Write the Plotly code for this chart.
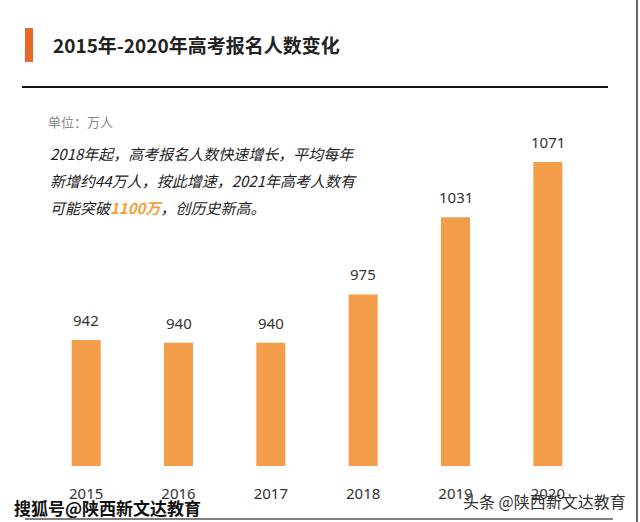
import plotly.graph_objects as go

years = ["2015", "2016", "2017", "2018", "2019", "2020"]
applicants = [942, 940, 940, 975, 1031, 1071]

title_text = "2015年-2020年高考报名人数变化"
unit_text = "单位：万人"
note_lines = [
    "2018年起，高考报名人数快速增长，平均每年",
    "新增约44万人，按此增速，2021年高考人数有",
    "可能突破<b><span style='color:#F2A03D'>1100万</span></b>，创历史新高。",
]
wm_left = "搜狐号@陕西新文达教育"
wm_right = "头条 @陕西新文达教育"

W, H = 640, 522
L, R, T, B = 40, 46, 100, 56
pw, ph = W - L - R, H - T - B
y0 = 850.7
ppu = 1.38
y1 = y0 + ph / ppu

def px(x):
    return (x - L) / pw

def py(y):
    return (H - B - y) / ph

CJK = "Noto Sans CJK SC, Noto Sans, sans-serif"
NUM = "Noto Sans, Open Sans, sans-serif"

fig = go.Figure()
fig.add_trace(go.Bar(
    x=years, y=applicants,
    marker=dict(color="#F39C4A", line=dict(width=0)),
    hoverinfo="skip",
))

annotations = []
for i, v in enumerate(applicants):
    annotations.append(dict(
        x=i, y=v, xref="x", yref="y", text=str(v), showarrow=False,
        yanchor="bottom", yshift=8,
        font=dict(family=NUM, size=15, color="#333333"),
    ))

annotations.append(dict(
    x=px(51), y=py(45), xref="paper", yref="paper", text="<b>" + title_text + "</b>",
    showarrow=False, xanchor="left", yanchor="middle",
    font=dict(family=CJK, size=19, color="#222222"),
))
annotations.append(dict(
    x=px(46), y=py(122), xref="paper", yref="paper", text=unit_text,
    showarrow=False, xanchor="left", yanchor="middle",
    font=dict(family=CJK, size=13, color="#888888"),
))
for i, line in enumerate(note_lines):
    annotations.append(dict(
        x=px(48), y=py(153 + 27 * i), xref="paper", yref="paper",
        text="<i>" + line + "</i>",
        showarrow=False, xanchor="left", yanchor="middle",
        font=dict(family=CJK, size=15, color="#222222"),
    ))
annotations.append(dict(
    x=px(12), y=py(507), xref="paper", yref="paper", text="<b>" + wm_left + "</b>",
    showarrow=False, xanchor="left", yanchor="middle",
    font=dict(family=CJK, size=17, color="#111111"),
))
annotations.append(dict(
    x=px(461), y=py(501), xref="paper", yref="paper", text=wm_right,
    showarrow=False, xanchor="left", yanchor="middle",
    font=dict(family=CJK, size=16, color="#333333"),
))

shapes = [
    dict(type="rect", xref="paper", yref="paper", x0=px(25), x1=px(33), y0=py(62), y1=py(28),
         fillcolor="#E8692A", line=dict(width=0), layer="above"),
    dict(type="line", xref="paper", yref="paper", x0=px(22), x1=px(608), y0=py(87), y1=py(87),
         line=dict(color="#111111", width=2)),
    dict(type="line", xref="paper", yref="paper", x0=px(25), x1=px(613), y0=py(519), y1=py(519),
         line=dict(color="#555555", width=1.5)),
    dict(type="line", xref="paper", yref="paper", x0=px(637), x1=px(637), y0=py(0), y1=py(522),
         line=dict(color="#333333", width=1.5)),
]

fig.update_layout(
    width=W, height=H,
    margin=dict(l=L, r=R, t=T, b=B, pad=0),
    paper_bgcolor="white", plot_bgcolor="white",
    showlegend=False,
    bargap=0.686,
    xaxis=dict(
        type="category", range=[-0.5, 5.5], showgrid=False, zeroline=False, showline=False,
        ticks="outside", ticklen=14, tickcolor="rgba(0,0,0,0)",
        tickfont=dict(family=NUM, size=15, color="#333333"),
        fixedrange=True,
    ),
    yaxis=dict(
        range=[y0, y1], visible=False, showgrid=False, zeroline=False, fixedrange=True,
    ),
    annotations=annotations,
    shapes=shapes,
)

fig.write_html("out.html", config={"displayModeBar": False})
